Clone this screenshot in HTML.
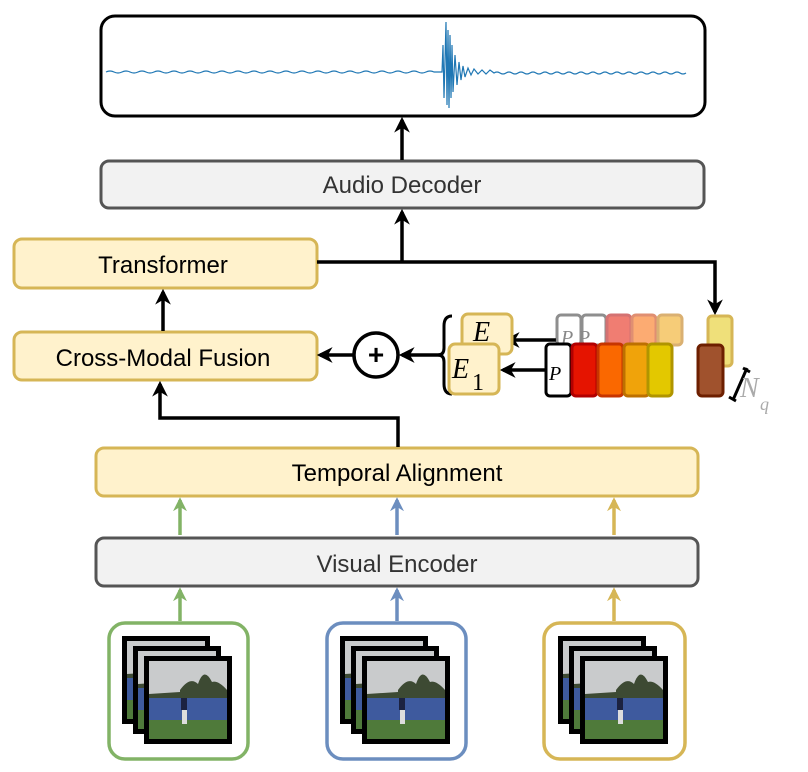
<!DOCTYPE html>
<html><head><meta charset="utf-8"><style>
body{margin:0;background:#fff;}
svg{display:block;font-family:"Liberation Sans",sans-serif;}
</style></head><body>
<svg width="808" height="772" viewBox="0 0 808 772" xmlns="http://www.w3.org/2000/svg">
<defs>
<marker id="ah" viewBox="0 0 10 10" refX="8" refY="5" markerWidth="4.5" markerHeight="4.5" orient="auto"><path d="M0,0 L10,5 L0,10 L3,5 z" fill="#000"/></marker>
<marker id="ahg" viewBox="0 0 10 10" refX="8" refY="5" markerWidth="4" markerHeight="4" orient="auto"><path d="M0,0 L10,5 L0,10 L3,5 z" fill="#82b366"/></marker>
<marker id="ahb" viewBox="0 0 10 10" refX="8" refY="5" markerWidth="4" markerHeight="4" orient="auto"><path d="M0,0 L10,5 L0,10 L3,5 z" fill="#6c8ebf"/></marker>
<marker id="ahy" viewBox="0 0 10 10" refX="8" refY="5" markerWidth="4" markerHeight="4" orient="auto"><path d="M0,0 L10,5 L0,10 L3,5 z" fill="#d6b656"/></marker>
<g id="frame">
<rect x="0" y="0" width="88" height="88" fill="#000"/>
<rect x="5" y="5" width="78" height="78" fill="#c9cbcc"/>
<path d="M36 34 Q46 20 54 28 Q60 10 68 26 Q74 24 83 34 L83 42 L5 42 L5 38 L36 36z" fill="#3d4a33"/>
<rect x="5" y="42" width="78" height="22" fill="#3e5a9e"/>
<rect x="5" y="64" width="78" height="19" fill="#4f7a3a"/>
<rect x="37" y="42" width="6" height="12" fill="#1c2240"/>
<rect x="38" y="54" width="5" height="14" fill="#ddd"/>
</g>
</defs>

<rect x="101" y="16" width="604" height="100" rx="14" fill="#fff" stroke="#000" stroke-width="3"/>
<path d="M106 72 q4 -2 8 0 t8 0 t8 0 t8 0 t8 0 t8 0 t8 0 t8 0 t8 0 t8 0 t8 0 t8 0 t8 0 t8 0 t8 0 t8 0 t8 0 t8 0 t8 0 t8 0 t8 0 t8 0 t8 0 t8 0 t8 0 t8 0 t8 0 t8 0 t8 0 t8 0 t8 0 t8 0 t8 0 t8 0 t8 0 t8 0 t8 0 t8 0 t8 0 t8 0 t8 0 L442 72 L443 45 L444 98 L446 22 L447 105 L448 30 L449 108 L450 35 L451 98 L452 45 L453 92 L455 55 L457 85 L459 62 L461 80 L463 66 L465 77 L468 68 L471 75 L474 69 L478 74 L482 70 L486 74 L490 70 L494 73 q3 -2 6 0 t6 0 t6 0 t6 0 t6 0 t6 0 t6 0 t6 0 t6 0 t6 0 t6 0 t6 0 t6 0 t6 0 t6 0 t6 0 t6 0 t6 0 t6 0 t6 0 t6 0 t6 0 t6 0 t6 0 t6 0 t6 0 t6 0 t6 0 t6 0 t6 0 t6 0 t6 0" fill="none" stroke="#1f77b4" stroke-width="1.2"/>

<rect x="101" y="161" width="603" height="47" rx="8" fill="#f2f2f2" stroke="#555" stroke-width="3"/>
<text x="402" y="193" font-size="24" text-anchor="middle" fill="#333">Audio Decoder</text>

<rect x="14" y="239" width="303" height="49" rx="8" fill="#fff2cc" stroke="#d6b656" stroke-width="3"/>
<text x="163" y="273" font-size="24" text-anchor="middle">Transformer</text>

<rect x="14" y="332" width="303" height="48" rx="8" fill="#fff2cc" stroke="#d6b656" stroke-width="3"/>
<text x="163" y="366" font-size="24" text-anchor="middle">Cross-Modal Fusion</text>

<rect x="96" y="448" width="602" height="48" rx="8" fill="#fff2cc" stroke="#d6b656" stroke-width="3"/>
<text x="397" y="481" font-size="24" text-anchor="middle">Temporal Alignment</text>

<rect x="96" y="538" width="602" height="48" rx="8" fill="#f2f2f2" stroke="#555" stroke-width="3"/>
<text x="397" y="572" font-size="24" text-anchor="middle" fill="#333">Visual Encoder</text>

<g stroke="#000" stroke-width="3.5" fill="none">
<line x1="402" y1="160" x2="402" y2="120" marker-end="url(#ah)"/>
<polyline points="317,262 715,262 715,312" marker-end="url(#ah)"/>
<line x1="402" y1="262" x2="402" y2="212" marker-end="url(#ah)"/>
<line x1="163" y1="331" x2="163" y2="292" marker-end="url(#ah)"/>
<polyline points="398,447 398,418 160,418 160,384" marker-end="url(#ah)"/>
<line x1="353" y1="355" x2="320" y2="355" marker-end="url(#ah)"/>
<line x1="440" y1="355" x2="402" y2="355" marker-end="url(#ah)"/>
<line x1="556" y1="340" x2="507" y2="340" marker-end="url(#ah)"/>
<line x1="546" y1="370" x2="503" y2="370" marker-end="url(#ah)"/>
</g>
<circle cx="376" cy="355" r="22" fill="#fff" stroke="#000" stroke-width="3.5"/>
<text x="376" y="364" font-size="28" font-weight="bold" text-anchor="middle">+</text>

<path d="M452 316 Q444 316 444 326 L444 348 Q444 355 438 355 Q444 355 444 362 L444 384 Q444 394 452 394" fill="none" stroke="#000" stroke-width="3"/>

<rect x="462" y="314" width="50" height="40" rx="6" fill="#fff2cc" stroke="#d6b656" stroke-width="3"/>
<text x="473" y="341" font-size="28" font-style="italic" font-family="Liberation Serif,serif">E</text>
<rect x="449" y="344" width="50" height="50" rx="6" fill="#fff2cc" stroke="#d6b656" stroke-width="3"/>
<text x="452" y="378" font-size="28" font-style="italic" font-family="Liberation Serif,serif">E</text>
<text x="472" y="390" font-size="24" font-family="Liberation Serif,serif">1</text>

<g stroke-width="3" opacity="0.55">
<rect x="557" y="315" width="24" height="30" rx="4" fill="#fff" stroke="#333"/>
<rect x="582" y="315" width="24" height="30" rx="4" fill="#fff" stroke="#333"/>
<rect x="607" y="315" width="24" height="30" rx="4" fill="#e51400" stroke="#b20000"/>
<rect x="632" y="315" width="24" height="30" rx="4" fill="#fa6800" stroke="#c73500"/>
<rect x="658" y="315" width="24" height="30" rx="4" fill="#f0a30a" stroke="#bd7000"/>
</g>
<text x="561" y="344" font-size="20" font-style="italic" fill="#888" font-family="Liberation Serif,serif">P P</text>
<g stroke-width="3">
<rect x="546" y="344" width="25" height="52" rx="4" fill="#fff" stroke="#000"/>
<rect x="572" y="344" width="25" height="52" rx="4" fill="#e51400" stroke="#b20000"/>
<rect x="598" y="344" width="25" height="52" rx="4" fill="#fa6800" stroke="#c73500"/>
<rect x="624" y="344" width="25" height="52" rx="4" fill="#f0a30a" stroke="#bd7000"/>
<rect x="648" y="344" width="24" height="52" rx="4" fill="#e3c800" stroke="#b09500"/>
<rect x="708" y="316" width="24" height="50" rx="4" fill="#efe07a" stroke="#d6b656"/>
<rect x="698" y="345" width="25" height="51" rx="4" fill="#a0522d" stroke="#6d1f00"/>
</g>
<text x="549" y="380" font-size="20" font-style="italic" font-family="Liberation Serif,serif">P</text>
<path d="M747 368 L733 400 M743 368 L750 372 M729 397 L736 401" stroke="#000" stroke-width="3" fill="none"/>
<text x="740" y="397" font-size="28" font-style="italic" fill="#aaa" font-family="Liberation Serif,serif">N</text>
<text x="760" y="410" font-size="18" font-style="italic" fill="#aaa" font-family="Liberation Serif,serif">q</text>

<g stroke-width="3.5">
<line x1="180" y1="535" x2="180" y2="500" stroke="#82b366" marker-end="url(#ahg)"/>
<line x1="397" y1="535" x2="397" y2="500" stroke="#6c8ebf" marker-end="url(#ahb)"/>
<line x1="614" y1="535" x2="614" y2="500" stroke="#d6b656" marker-end="url(#ahy)"/>
<line x1="180" y1="621" x2="180" y2="590" stroke="#82b366" marker-end="url(#ahg)"/>
<line x1="397" y1="621" x2="397" y2="590" stroke="#6c8ebf" marker-end="url(#ahb)"/>
<line x1="614" y1="621" x2="614" y2="590" stroke="#d6b656" marker-end="url(#ahy)"/>
</g>

<rect x="109" y="623" width="139" height="136" rx="16" fill="#fff" stroke="#82b366" stroke-width="3.5"/>
<use href="#frame" x="122" y="636"/><use href="#frame" x="133" y="646"/><use href="#frame" x="144" y="656"/>
<rect x="327" y="623" width="139" height="136" rx="16" fill="#fff" stroke="#6c8ebf" stroke-width="3.5"/>
<use href="#frame" x="340" y="636"/><use href="#frame" x="351" y="646"/><use href="#frame" x="362" y="656"/>
<rect x="544" y="623" width="141" height="136" rx="16" fill="#fff" stroke="#d6b656" stroke-width="3.5"/>
<use href="#frame" x="558" y="636"/><use href="#frame" x="569" y="646"/><use href="#frame" x="580" y="656"/>
</svg>
</body></html>
